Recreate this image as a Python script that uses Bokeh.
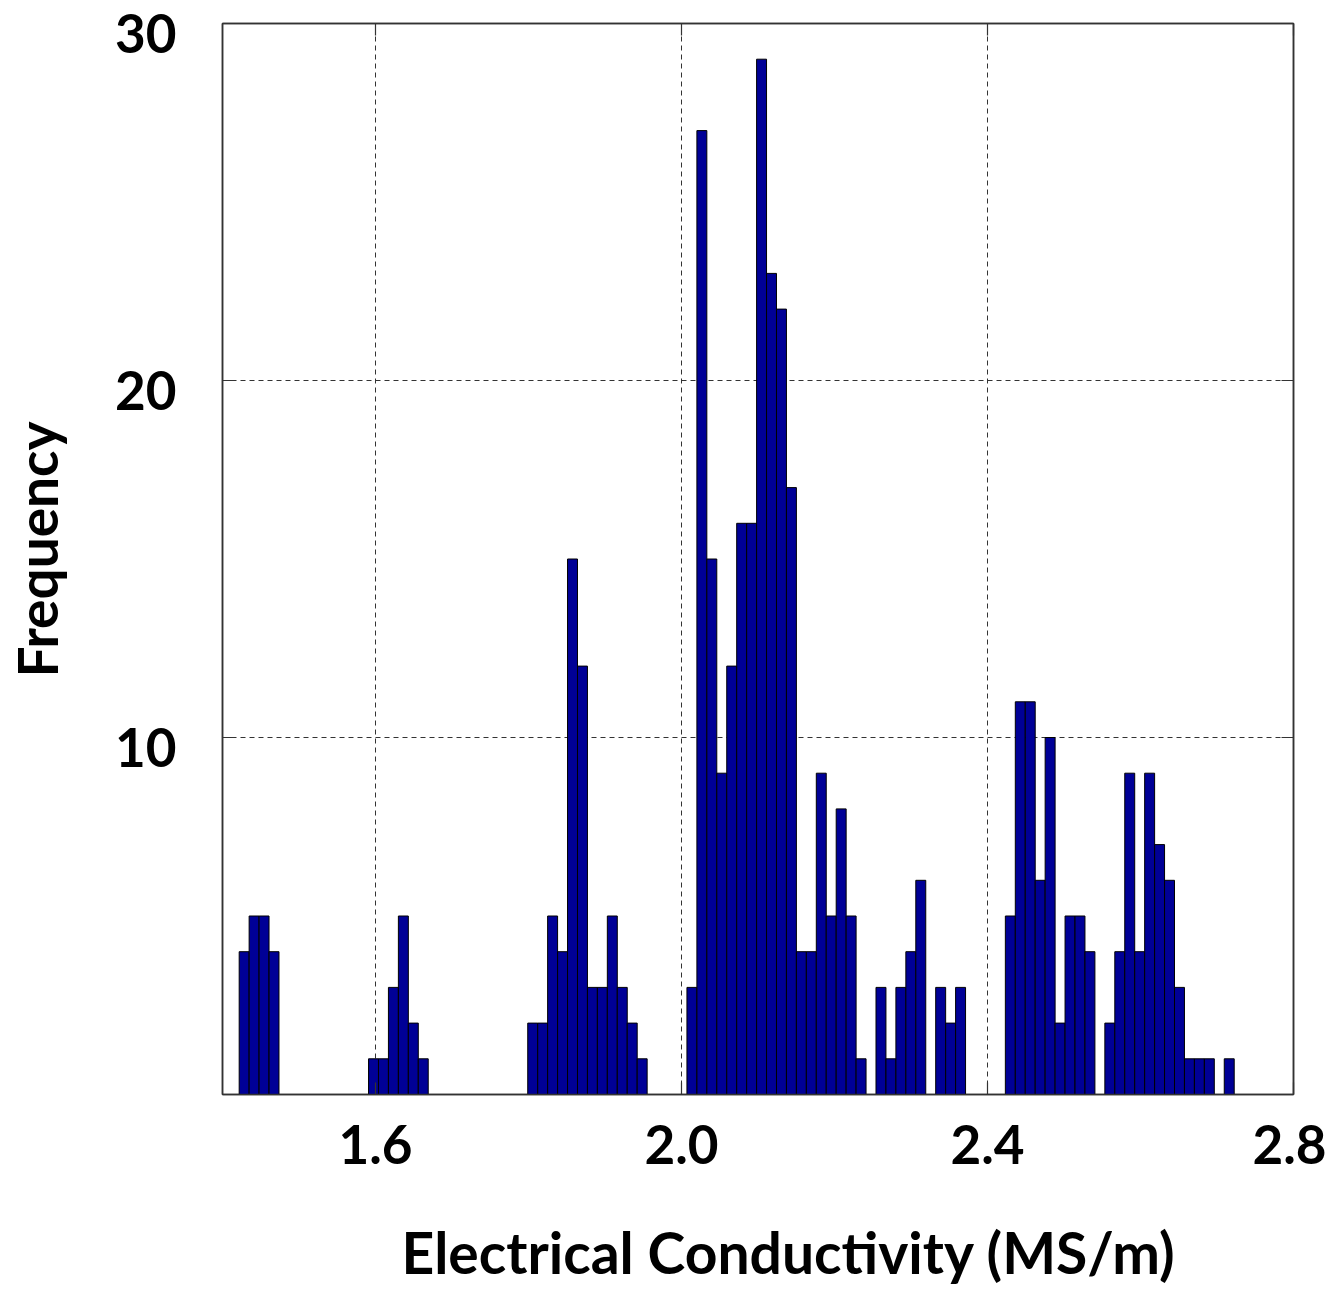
import numpy as np
from bokeh.plotting import figure
from bokeh.models import (ColumnDataSource, FixedTicker, LinearAxis, Range1d,
                          PrintfTickFormatter, Title)
from bokeh.embed import file_html
from bokeh.resources import INLINE

# ---- data (100 equal-width bins) ----
data_min = 1.4218
data_max = 2.7225
n_bins = 100
counts = [
    4, 5, 5, 4,
    0, 0, 0, 0, 0, 0, 0, 0, 0,
    1, 1, 3, 5, 2, 1,
    0, 0, 0, 0, 0, 0, 0, 0, 0, 0,
    2, 2, 5, 4, 15, 12, 3, 3, 5, 3, 2, 1,
    0, 0, 0, 0,
    3, 27, 15, 9, 12, 16, 16, 29, 23, 22, 17, 4, 4, 9, 5, 8, 5, 1,
    0,
    3, 1, 3, 4, 6,
    0,
    3, 2, 3,
    0, 0, 0, 0,
    5, 11, 11, 6, 10, 2, 5, 5, 4,
    0,
    2, 4, 9, 4, 9, 7, 6, 3, 1, 1, 1,
    0,
    1,
]
x_ticks = [1.6, 2.0, 2.4, 2.8]
y_ticks = [10, 20, 30]
x_label = "Electrical Conductivity (MS/m)"
y_label = "Frequency"

edges = np.linspace(data_min, data_max, n_bins + 1)
cnt = np.array(counts)
mask = cnt > 0
src = ColumnDataSource(dict(left=edges[:-1][mask], right=edges[1:][mask], top=cnt[mask]))

FONT = "Lato"
FS = "53px"
FRAME = "#333333"
Y0, Y1 = 0, 30
LABEL_DROP = 0.28  # y tick labels sit slightly below their gridlines, as in the reference

p = figure(width=1326, height=1286, output_backend="svg", toolbar_location=None,
           x_range=Range1d(1.4, 2.8), y_range=Range1d(Y0, Y1),
           min_border_left=222, min_border_right=33, min_border_top=23, min_border_bottom=192)
p.extra_y_ranges = {"ylab": Range1d(Y0 + LABEL_DROP, Y1 + LABEL_DROP)}
p.background_fill_color = "white"
p.border_fill_color = "white"
p.outline_line_color = FRAME
p.outline_line_width = 1.5

p.quad(left="left", right="right", bottom=0, top="top", source=src,
       fill_color="#000096", line_color="black", line_width=1)

def tick_style(ax):
    ax.axis_line_color = FRAME
    ax.axis_line_width = 1.5
    ax.major_tick_in = 12
    ax.major_tick_out = 0
    ax.major_tick_line_color = FRAME
    ax.major_tick_line_width = 1.2
    ax.minor_tick_line_color = None

def hide_labels(ax):
    ax.major_label_text_color = None
    ax.major_label_text_font_size = "1px"
    ax.major_label_standoff = 0

# bottom axis
tick_style(p.xaxis[0])
p.xaxis.ticker = FixedTicker(ticks=x_ticks)
p.xaxis.formatter = PrintfTickFormatter(format="%.1f")
p.xaxis.major_label_text_font = FONT
p.xaxis.major_label_text_font_style = "bold"
p.xaxis.major_label_text_font_size = FS
p.xaxis.major_label_text_color = "black"
p.xaxis.major_label_standoff = 30

# left axis: ticks on the main range, labels on a slightly shifted copy
tick_style(p.yaxis[0])
p.yaxis.ticker = FixedTicker(ticks=y_ticks)
hide_labels(p.yaxis[0])

ylab = LinearAxis(y_range_name="ylab", ticker=FixedTicker(ticks=y_ticks))
ylab.axis_line_color = None
ylab.major_tick_line_color = None
ylab.minor_tick_line_color = None
ylab.major_tick_in = 0
ylab.major_tick_out = 0
ylab.major_label_text_font = FONT
ylab.major_label_text_font_style = "bold"
ylab.major_label_text_font_size = FS
ylab.major_label_text_color = "black"
ylab.major_label_standoff = 46
p.add_layout(ylab, "left")

# spacers between tick labels and axis titles
p.add_layout(Title(text=" ", text_font_size="1px", standoff=46), "below")
p.add_layout(Title(text=" ", text_font_size="1px", standoff=40), "left")

# axis titles
p.add_layout(Title(text=x_label, align="left", offset=179, standoff=0,
                   text_font=FONT, text_font_style="bold", text_font_size="57px",
                   text_color="black"), "below")
p.add_layout(Title(text=y_label, align="left", offset=417, standoff=0,
                   text_font=FONT, text_font_style="bold", text_font_size="55px",
                   text_color="black"), "left")

# mirrored inward ticks on top and right
for loc, tk in (("above", x_ticks), ("right", y_ticks)):
    ax = LinearAxis(ticker=FixedTicker(ticks=tk))
    tick_style(ax)
    hide_labels(ax)
    p.add_layout(ax, loc)

p.xgrid.ticker = FixedTicker(ticks=[1.6, 2.0, 2.4])
p.ygrid.ticker = FixedTicker(ticks=[10, 20])
for g in (p.xgrid[0], p.ygrid[0]):
    g.grid_line_color = "#333333"
    g.grid_line_dash = "5 4"
    g.grid_line_width = 1

open("out.html", "w").write(file_html(p, INLINE))
